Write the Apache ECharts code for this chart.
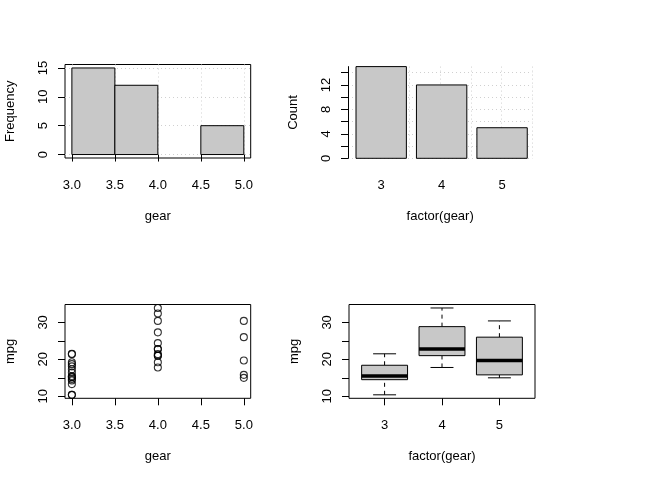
<!DOCTYPE html>
<html><head><meta charset="utf-8">
<script src="https://cdn.jsdelivr.net/npm/echarts@6/dist/echarts.min.js"></script>
<style>html,body{margin:0;padding:0;background:#fff}#c{width:672px;height:480px}</style>
</head><body><div id="c"></div>
<script>
// ---- data ----
const histBreaks = [3.0, 3.5, 4.0, 4.5, 5.0];
const histCounts = [15, 12, 0, 5];
const gearLevels = ['3', '4', '5'];
const gearCounts = [15, 12, 5];
const carGear = [4,4,4,3,3,3,3,4,4,4,4,3,3,3,3,3,3,4,4,4,3,3,3,3,3,4,5,5,5,5,5,4];
const carMpg = [21,21,22.8,21.4,18.7,18.1,14.3,24.4,22.8,19.2,17.8,16.4,17.3,15.2,10.4,10.4,14.7,32.4,30.4,33.9,21.5,15.5,15.2,13.3,19.2,27.3,26,30.4,15.8,19.7,15,21.4];
const boxMin = [10.4, 17.8, 15.0];
const boxQ1 = [14.5, 21.0, 15.8];
const boxMedian = [15.5, 22.8, 19.7];
const boxQ3 = [18.4, 28.85, 26.0];
const boxMax = [21.5, 33.9, 30.4];
const gearTicks = [3.0, 3.5, 4.0, 4.5, 5.0];
const freqTicks = [0, 5, 10, 15];
const countTicks = [0, 2, 4, 6, 8, 10, 12, 14];
const countLabels = [0, 4, 8, 12];
const mpgTicks = [10, 15, 20, 25, 30];
const mpgLabels = [10, 20, 30];

// ---- style ----
const FF = '"Liberation Sans", Arial, Helvetica, sans-serif';
const TXT = {fontFamily: FF, fontSize: 13, color: '#000'};
const FILL = '#c8c8c8';
const GRIDLINE = {show: true, lineStyle: {color: '#d0d0d0', width: 1, type: [1, 3]}};
const TICK = (vals) => ({show: true, length: 7, lineStyle: {color: '#000', width: 1}, customValues: vals});
const XLM = 21, XNG = 52, YLM = 15, YNG = 48;

const chart = echarts.init(document.getElementById('c'), null, {renderer: 'canvas'});

// bar geometry (R barplot: width 1, space 0.2)
const BAR_SPACE = 0.2, BAR_W = 1;
const barLeft = i => BAR_SPACE + i * (BAR_W + BAR_SPACE);
const barCenters = gearLevels.map((_, i) => barLeft(i) + BAR_W / 2);

const option = {
  animation: false,
  backgroundColor: '#fff',
  grid: [
    {left: 65, top: 64.5, width: 185.7, height: 93.5, show: true, borderColor: '#000', borderWidth: 1, backgroundColor: 'transparent'},
    {left: 348, top: 66.6, width: 184.3, height: 91.7, show: false},
    {left: 65, top: 304.5, width: 185.7, height: 93.8, show: true, borderColor: '#000', borderWidth: 1, backgroundColor: 'transparent'},
    {left: 349, top: 304.5, width: 186, height: 93.8, show: true, borderColor: '#000', borderWidth: 1, backgroundColor: 'transparent'}
  ],
  xAxis: [
    {gridIndex: 0, type: 'value', min: 2.92, max: 5.08,
     axisLine: {show: false}, axisTick: TICK(gearTicks),
     axisLabel: Object.assign({customValues: gearTicks, margin: XLM, formatter: v => v.toFixed(1)}, TXT),
     splitLine: GRIDLINE,
     name: 'gear', nameLocation: 'middle', nameGap: XNG, nameTextStyle: TXT},
    {gridIndex: 1, type: 'value', min: 0.041, max: 3.70,
     axisLine: {show: false}, axisTick: {show: false, customValues: barCenters},
     axisLabel: Object.assign({customValues: barCenters, margin: XLM,
       formatter: v => gearLevels[Math.round((v - BAR_SPACE - BAR_W / 2) / (BAR_W + BAR_SPACE))]}, TXT),
     splitLine: {show: false},
     name: 'factor(gear)', nameLocation: 'middle', nameGap: XNG, nameTextStyle: TXT},
    {gridIndex: 1, type: 'value', min: 0, max: 6, interval: 1,
     axisLine: {show: false}, axisTick: {show: false}, axisLabel: {show: false},
     splitLine: GRIDLINE},
    {gridIndex: 2, type: 'value', min: 2.92, max: 5.08,
     axisLine: {show: false}, axisTick: TICK(gearTicks),
     axisLabel: Object.assign({customValues: gearTicks, margin: XLM, formatter: v => v.toFixed(1)}, TXT),
     splitLine: {show: false},
     name: 'gear', nameLocation: 'middle', nameGap: XNG, nameTextStyle: TXT},
    {gridIndex: 3, type: 'value', min: 0.38, max: 3.62,
     axisLine: {show: false}, axisTick: TICK([1, 2, 3]),
     axisLabel: Object.assign({customValues: [1, 2, 3], margin: XLM, formatter: v => gearLevels[Math.round(v) - 1]}, TXT),
     splitLine: {show: false},
     name: 'factor(gear)', nameLocation: 'middle', nameGap: XNG, nameTextStyle: TXT}
  ],
  yAxis: [
    {gridIndex: 0, type: 'value', min: -0.6, max: 15.6,
     axisLine: {show: false}, axisTick: TICK(freqTicks),
     axisLabel: Object.assign({customValues: freqTicks, margin: YLM, rotate: 90}, TXT),
     splitLine: GRIDLINE,
     name: 'Frequency', nameLocation: 'middle', nameGap: YNG, nameTextStyle: TXT},
    {gridIndex: 1, type: 'value', min: 0, max: 15,
     axisLine: {show: true, lineStyle: {color: '#000', width: 1}}, axisTick: TICK(countTicks),
     axisLabel: Object.assign({customValues: countLabels, margin: YLM, rotate: 90}, TXT),
     splitLine: GRIDLINE,
     name: 'Count', nameLocation: 'middle', nameGap: YNG, nameTextStyle: TXT},
    {gridIndex: 2, type: 'value', min: 9.46, max: 34.84,
     axisLine: {show: false}, axisTick: TICK(mpgTicks),
     axisLabel: Object.assign({customValues: mpgLabels, margin: YLM, rotate: 90}, TXT),
     splitLine: {show: false},
     name: 'mpg', nameLocation: 'middle', nameGap: YNG, nameTextStyle: TXT},
    {gridIndex: 3, type: 'value', min: 9.46, max: 34.84,
     axisLine: {show: false}, axisTick: TICK(mpgTicks),
     axisLabel: Object.assign({customValues: mpgLabels, margin: YLM, rotate: 90}, TXT),
     splitLine: {show: false},
     name: 'mpg', nameLocation: 'middle', nameGap: YNG, nameTextStyle: TXT}
  ],
  series: [
    {
      type: 'custom', name: 'hist', xAxisIndex: 0, yAxisIndex: 0,
      data: histCounts.map((c, i) => [histBreaks[i], histBreaks[i + 1], c]),
      encode: {x: [0, 1], y: 2},
      renderItem: (params, api) => {
        if (api.value(2) <= 0) return null;
        const p0 = api.coord([api.value(0), 0]);
        const p1 = api.coord([api.value(1), api.value(2)]);
        return {type: 'rect', shape: {x: p0[0], y: p1[1], width: p1[0] - p0[0], height: p0[1] - p1[1]},
                style: {fill: FILL, stroke: '#000', lineWidth: 1}};
      }
    },
    {
      type: 'custom', name: 'bars', xAxisIndex: 1, yAxisIndex: 1,
      data: gearCounts.map((c, i) => [i, c]),
      encode: {y: 1},
      renderItem: (params, api) => {
        const i = api.value(0);
        const p0 = api.coord([barLeft(i), 0]);
        const p1 = api.coord([barLeft(i) + BAR_W, api.value(1)]);
        return {type: 'rect', shape: {x: p0[0], y: p1[1], width: p1[0] - p0[0], height: p0[1] - p1[1]},
                style: {fill: FILL, stroke: '#000', lineWidth: 1}};
      }
    },
    {
      type: 'scatter', name: 'mpg', xAxisIndex: 3, yAxisIndex: 2,
      data: carGear.map((g, i) => [g, carMpg[i]]),
      symbol: 'circle', symbolSize: 7,
      itemStyle: {color: 'rgba(0,0,0,0)', borderColor: '#000', borderWidth: 1.1}
    },
    {
      type: 'custom', name: 'box', xAxisIndex: 4, yAxisIndex: 3,
      data: gearLevels.map((_, i) => [i + 1, boxMin[i], boxQ1[i], boxMedian[i], boxQ3[i], boxMax[i]]),
      encode: {x: 0, y: [1, 5]},
      renderItem: (params, api) => {
        const x = api.value(0);
        const hw = 0.4, sw = 0.2;
        const c = (xx, yy) => api.coord([xx, yy]);
        const pMin = c(x, api.value(1)), pQ1 = c(x, api.value(2)), pMed = c(x, api.value(3)),
              pQ3 = c(x, api.value(4)), pMax = c(x, api.value(5));
        const bl = c(x - hw, 0)[0], br = c(x + hw, 0)[0];
        const sl = c(x - sw, 0)[0], sr = c(x + sw, 0)[0];
        const dash = {stroke: '#000', lineWidth: 1, lineDash: [4, 4]};
        const solid = {stroke: '#000', lineWidth: 1};
        return {type: 'group', children: [
          {type: 'line', shape: {x1: pMin[0], y1: pMin[1], x2: pQ1[0], y2: pQ1[1]}, style: dash},
          {type: 'line', shape: {x1: pQ3[0], y1: pQ3[1], x2: pMax[0], y2: pMax[1]}, style: dash},
          {type: 'line', shape: {x1: sl, y1: pMin[1], x2: sr, y2: pMin[1]}, style: solid},
          {type: 'line', shape: {x1: sl, y1: pMax[1], x2: sr, y2: pMax[1]}, style: solid},
          {type: 'rect', shape: {x: bl, y: pQ3[1], width: br - bl, height: pQ1[1] - pQ3[1]},
           style: {fill: FILL, stroke: '#000', lineWidth: 1}},
          {type: 'line', shape: {x1: bl, y1: pMed[1], x2: br, y2: pMed[1]}, style: {stroke: '#000', lineWidth: 3.5}}
        ]};
      }
    }
  ]
};
chart.setOption(option);
</script>
</body></html>
